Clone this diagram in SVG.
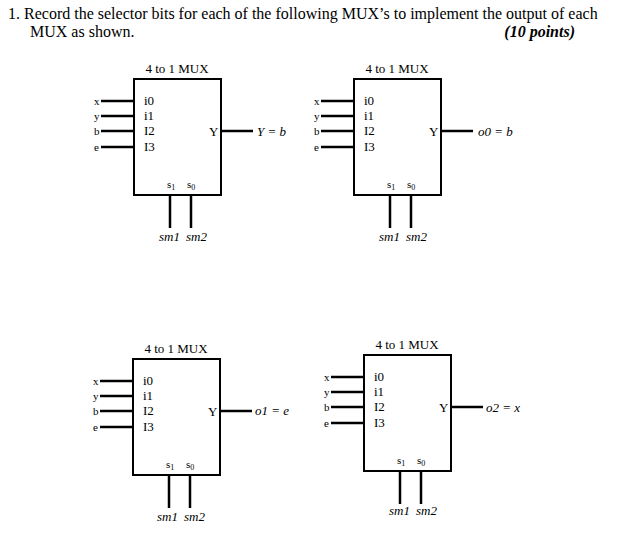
<svg xmlns="http://www.w3.org/2000/svg" width="627" height="537" viewBox="0 0 627 537">
<defs><style>
text{font-family:"Liberation Serif",serif;font-size:13px;fill:#000}
.h{font-size:16px}
.s{font-size:11px}.i{font-style:italic}
.b{fill:#fff;stroke:#000;stroke-width:2}
line{stroke:#000;stroke-width:2.5}
</style>
<g id="mux">
<rect class="b" x="0" y="0" width="87" height="116"/>
<text x="43" y="-6" text-anchor="middle">4 to 1 MUX</text>
<text x="10" y="26">i0</text><text x="10" y="41">i1</text><text x="10" y="56">I2</text><text x="10" y="72">I3</text>
<text x="75" y="57">Y</text>
<text x="33" y="109" class="s">s<tspan font-size="8" dy="2">1</tspan></text>
<text x="53" y="109" class="s">s<tspan font-size="8" dy="2">0</tspan></text>
<text x="-40" y="26" class="s">x</text><text x="-40" y="41" class="s">y</text><text x="-40" y="56" class="s">b</text><text x="-40" y="72" class="s">e</text>
</g>
<g id="wires">
<line x1="-33" y1="22" x2="0" y2="22"/><line x1="-33" y1="37" x2="0" y2="37"/>
<line x1="-33" y1="52" x2="0" y2="52"/><line x1="-33" y1="68" x2="0" y2="68"/>
<line x1="87" y1="52" x2="119" y2="52"/>
<line x1="36" y1="116" x2="36" y2="149"/><line x1="57" y1="116" x2="57" y2="149"/>
</g></defs>
<text class="h" x="8" y="19">1.  Record the selector bits for each of the following MUX’s to implement the output of each</text>
<text class="h" x="30" y="37">MUX as shown.</text>
<text class="h" x="575" y="37" text-anchor="end" font-weight="bold" font-style="italic">(10 points)</text>
<g id="connectors">
<use href="#wires" transform="translate(134,79)"/>
<use href="#wires" transform="translate(354,79)"/>
<use href="#wires" transform="translate(133,359)"/>
<use href="#wires" transform="translate(364,355)"/>
</g>
<g id="n1" transform="translate(134,79)"><use href="#mux"/></g>
<g id="n2" transform="translate(354,79)"><use href="#mux"/></g>
<g id="n3" transform="translate(133,359)"><use href="#mux"/></g>
<g id="n4" transform="translate(364,355)"><use href="#mux"/></g>
<g class="i">
<text x="257" y="136" font-style="italic">Y = b</text>
<text x="478" y="136" font-style="italic">o0 = b</text>
<text x="255" y="415" font-style="italic">o1 = e</text>
<text x="486" y="412" font-style="italic">o2 = x</text>
<text x="159" y="241" font-style="italic">sm1</text><text x="186" y="241" font-style="italic">sm2</text>
<text x="379" y="241" font-style="italic">sm1</text><text x="406" y="241" font-style="italic">sm2</text>
<text x="157" y="521" font-style="italic">sm1</text><text x="184" y="521" font-style="italic">sm2</text>
<text x="389" y="515" font-style="italic">sm1</text><text x="416" y="515" font-style="italic">sm2</text>
</g>
</svg>
